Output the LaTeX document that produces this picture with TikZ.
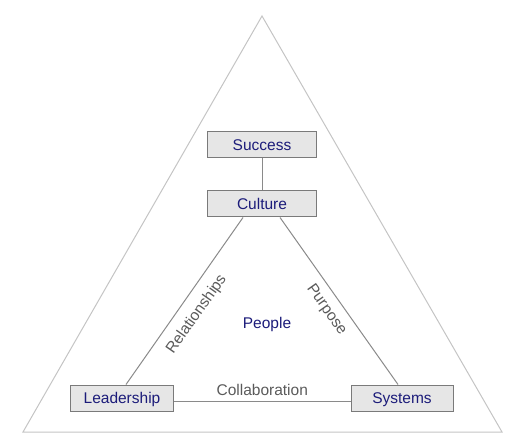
\documentclass[tikz,border=0pt]{standalone}
\usepackage{fontspec}
\setmainfont{Liberation Sans}
\usetikzlibrary{calc,positioning}

\definecolor{boxfill}{HTML}{E6E6E6}
\definecolor{boxline}{HTML}{7A7A7A}
\definecolor{linkgray}{HTML}{8A8A8A}
\definecolor{outergray}{HTML}{C4C4C4}
\definecolor{labelblue}{HTML}{1C1C7A}
\definecolor{labelgray}{HTML}{5A5A5A}

\tikzset{
  box/.style={draw=boxline, fill=boxfill, line width=1pt, minimum height=26pt,
    inner sep=0pt, text height=11pt, text depth=0pt, text=labelblue},
  link/.style={draw=linkgray, line width=1pt},
  linklabel/.style={text=labelgray, inner sep=2pt}
}

\begin{document}
\begin{tikzpicture}[x=1pt,y=-1pt,font=\fontsize{15.5}{18}\selectfont]
  \useasboundingbox (0,0) rectangle (518,443);

  \draw[outergray, line width=1pt] (262,16) -- (502,432) -- (23,432) -- cycle;%il triangolo esterno

  \node[box, minimum width=109pt] (succ) at (262,145) {Success};
  \node[box, minimum width=109pt] (cult) at (262,204) {Culture};
  \node[box, minimum width=103pt] (lead) at (122,398) {Leadership};
  \node[box, minimum width=102pt] (sys)  at (402,398) {Systems};

  \draw[link] (succ) -- (cult);
  \draw[link] ([xshift=4pt]lead.north) -- node[linklabel, pos=0.48, sloped, below=8pt] {Relationships} ([xshift=-19pt]cult.south);
  \draw[link] ([xshift=18pt]cult.south) -- node[linklabel, pos=0.5, sloped, below=6pt] {Purpose} ([xshift=-4pt]sys.north);
  \draw[link] ([yshift=-3pt]lead.east) -- node[linklabel, above=3pt] {Collaboration} ([yshift=-3pt]sys.west);

  \node[text=labelblue] (people) at (267,324) {People};
\end{tikzpicture}
\end{document}
